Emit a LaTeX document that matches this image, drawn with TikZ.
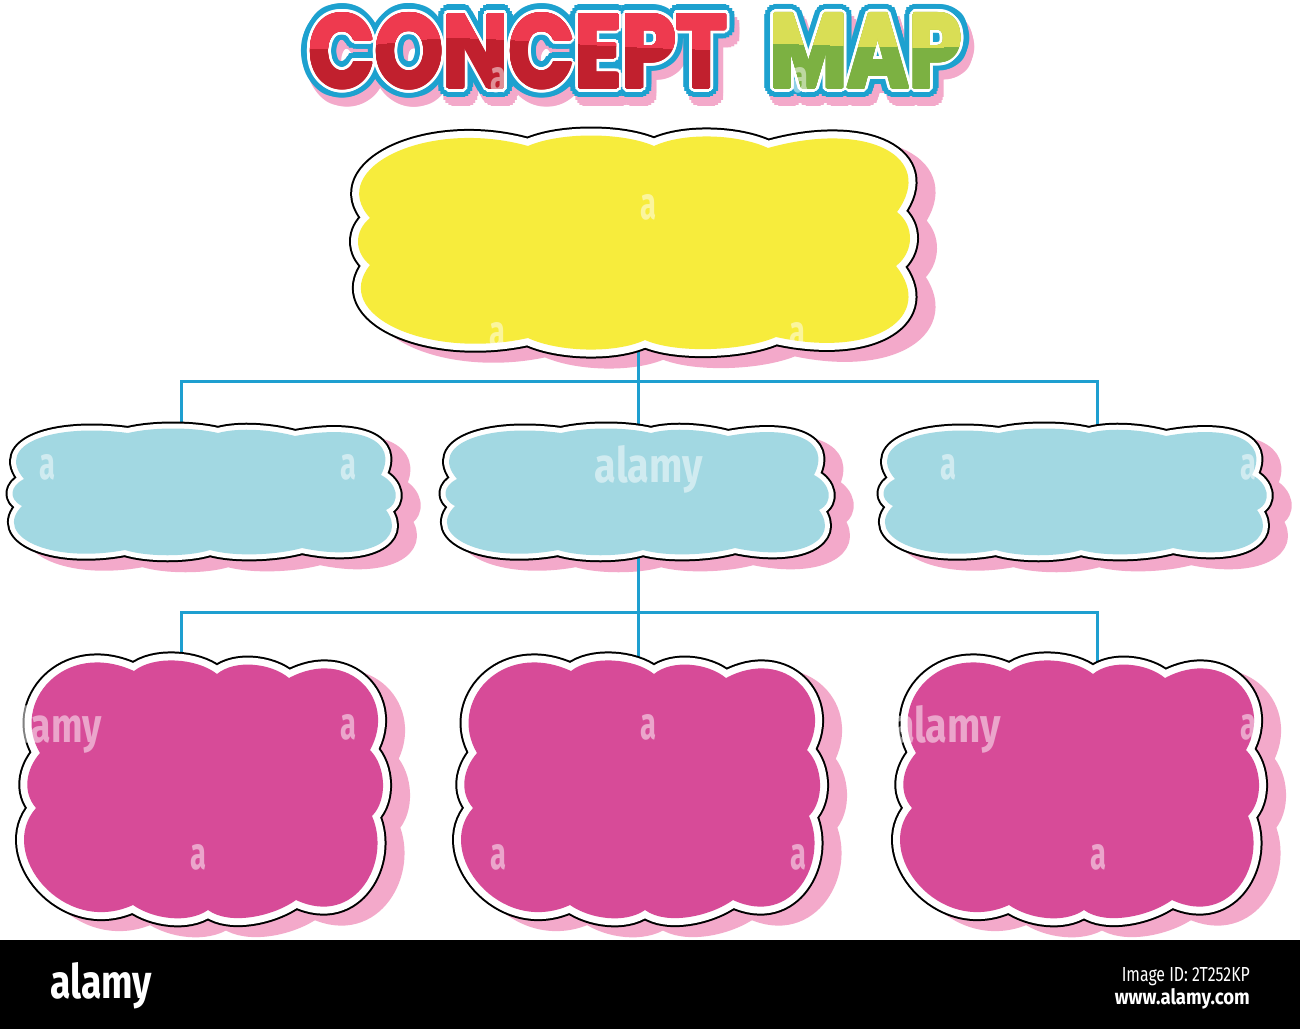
\documentclass[tikz,border=0pt]{standalone}
\usepackage{fontspec}
\newfontfamily\titlefont{Poppins}
\newfontfamily\wmfont{Fira Sans}
\usetikzlibrary{calc}
\definecolor{shpink}{HTML}{F3A9CA}
\definecolor{cyellow}{HTML}{F7EC3C}
\definecolor{cblue}{HTML}{A2D8E2}
\definecolor{cpink}{HTML}{D74B98}
\definecolor{cline}{HTML}{1E9FD0}
\definecolor{tblue}{HTML}{1DA1CF}
\definecolor{tredL}{HTML}{EE3A4F}
\definecolor{tredD}{HTML}{C1202E}
\definecolor{tgrnL}{HTML}{D9DE55}
\definecolor{tgrnD}{HTML}{7CB142}

\newcommand\ypath{(370,218) .. controls +(-45,-50) and +(-100,-28) .. (528,146)
 .. controls +(32,-14) and +(-32,-14) .. (654,146)
 .. controls +(30,-14) and +(-30,-14) .. (768,148)
 .. controls +(100,-28) and +(40,-55) .. (897,212)
 .. controls +(18,14) and +(18,-14) .. (896,266)
 .. controls +(40,50) and +(100,22) .. (776,337)
 .. controls +(-32,14) and +(32,14) .. (645,340)
 .. controls +(-30,14) and +(30,14) .. (528,338)
 .. controls +(-100,22) and +(-40,50) .. (370,265)
 .. controls +(-16,-13) and +(-16,13) .. (370,218) -- cycle}

\newcommand\bpath{(24,479) .. controls +(-30,-35) and +(-75,-10) .. (128,433)
 .. controls +(25,-6) and +(-25,-6) .. (218,433)
 .. controls +(22,-6) and +(-22,-6) .. (295,436)
 .. controls +(65,-12) and +(18,-35) .. (381,475)
 .. controls +(16,8) and +(16,-8) .. (386,510)
 .. controls +(22,30) and +(65,14) .. (302,548)
 .. controls +(-25,7) and +(25,7) .. (210,550)
 .. controls +(-22,7) and +(22,7) .. (125,550)
 .. controls +(-75,14) and +(-30,30) .. (22,506)
 .. controls +(-14,-7) and +(-14,7) .. (24,479) -- cycle}

\newcommand\ppath{(40,753) .. controls +(-30,-50) and +(-70,-32) .. (134,671)
 .. controls +(20,-16) and +(-20,-16) .. (217,674)
 .. controls +(18,-15) and +(-18,-15) .. (289,678)
 .. controls +(60,-32) and +(28,-50) .. (370,750)
 .. controls +(16,16) and +(16,-16) .. (372,816)
 .. controls +(20,45) and +(60,28) .. (296,900)
 .. controls +(-22,16) and +(22,16) .. (208,910)
 .. controls +(-20,14) and +(20,14) .. (133,905)
 .. controls +(-70,32) and +(-40,45) .. (36,808)
 .. controls +(-14,-16) and +(-14,16) .. (40,753) -- cycle}

\newcommand\cshadow[3]{\begin{scope}[shift={#3},shift={(18,10)}]
  \filldraw[shpink,line width=#2,line join=round] #1;
 \end{scope}}
\newcommand\cloud[5]{\begin{scope}[shift={#5}]
  \draw[black,line width=#3,line join=round] #1;
  \draw[white,line width=#4,line join=round] #1;
  \fill[#2] #1;
 \end{scope}}

\newcommand\tC{\resizebox{418pt}{74pt}{\titlefont\bfseries CONCEPT}}
\newcommand\tM{\resizebox{192pt}{74pt}{\titlefont\bfseries MAP}}
\newcommand\tlayerC[5]{\foreach \a in {0,20,...,340}{
  \node[tt,text=#2,name=tc#1\a] at ($(518,51)+(#4,#5)+(\a:#3)$) {\tC};}}
\newcommand\tlayerM[5]{\foreach \a in {0,20,...,340}{
  \node[tt,text=#2,name=tm#1\a] at ($(866,51)+(#4,#5)+(\a:#3)$) {\tM};}}

\begin{document}
\begin{tikzpicture}[x=1pt,y=-1pt,
 conn/.style={draw=cline,line width=3pt},
 tt/.style={inner sep=0pt,outer sep=0pt},
 wm/.style={inner sep=0pt,outer sep=0pt,text=white,text opacity=0.5,font=\wmfont\bfseries}]
\useasboundingbox (0,0) rectangle (1300,1029);
\fill[white] (0,0) rectangle (1300,1029);

% shadows
\cshadow{\ypath}{18pt}{(0,0)}
\foreach \s in {0,433,871}{\cshadow{\bpath}{14pt}{(\s,0)}}
\foreach \s in {0,437,876}{\cshadow{\ppath}{18pt}{(\s,0)}}

% connection points
\coordinate (Yc) at (638,240);
\coordinate (J1) at (638,381);
\coordinate (B1c) at (181,490);
\coordinate (B2c) at (638,490);
\coordinate (B3c) at (1097,490);
\coordinate (J2) at (638,612);
\coordinate (P1c) at (181,790);
\coordinate (P2c) at (638,790);
\coordinate (P3c) at (1097,790);
\draw[conn] (Yc) -- (J1);
\draw[conn] (J1) -- (B2c);
\draw[conn] (B1c) |- (J1) -| (B3c);
\draw[conn] (B2c) -- (J2);
\draw[conn] (J2) -- (P2c);
\draw[conn] (P1c) |- (J2) -| (P3c);

% clouds
\cloud{\ypath}{cyellow}{18pt}{14pt}{(0,0)}
\foreach \s in {0,433,871}{\cloud{\bpath}{cblue}{14pt}{10pt}{(\s,0)}}
\foreach \s in {0,437,876}{\cloud{\ppath}{cpink}{18pt}{14pt}{(\s,0)}}

% title
\tlayerC{s}{shpink}{10}{5}{9}
\tlayerM{s}{shpink}{10}{5}{9}
\tlayerC{b}{tblue}{10}{0}{0}
\tlayerM{b}{tblue}{10}{0}{0}
\tlayerC{w}{white}{4.5}{0}{0}
\tlayerM{w}{white}{4.5}{0}{0}
\tlayerC{d}{tredD}{1.5}{0}{0}
\tlayerM{d}{tgrnD}{1.5}{0}{0}
\begin{scope}
 \clip (290,0) -- (290,48) .. controls (360,52) and (400,36) .. (470,38) .. controls (540,40) and (600,48) .. (745,50) -- (745,0) -- cycle;
 \tlayerC{l}{tredL}{1.5}{0}{0}
\end{scope}
\begin{scope}
 \clip (750,0) -- (750,44) .. controls (820,42) and (870,50) .. (985,46) -- (985,0) -- cycle;
 \tlayerM{l}{tgrnL}{1.5}{0}{0}
\end{scope}

% watermark letters
\foreach \x/\y [count=\i] in {498/80,800/80,648/207,497/335,797/335,48/467,348/467,948/467,1248/467,348/727,648/727,1248/727,198/857,498/857,798/857,1098/857}
 \node[wm,anchor=base,name=wa\i] at (\x,\y+12.5) {\resizebox{16pt}{25pt}{a}};
\node[wm,anchor=base] (wl1) at (649,482) {\resizebox{108pt}{37pt}{alamy}};
\node[wm,anchor=base] (wl3) at (947,742) {\resizebox{108pt}{37pt}{alamy}};
\node[wm,anchor=base west] (wl2) at (0,742) {\resizebox{102pt}{37pt}{alamy}};

% bottom bar
\fill[black] (0,940) rectangle (1300,1029);
\node[inner sep=0pt,text=white,anchor=base west,font=\wmfont\bfseries] (logo) at (50,998) {\resizebox{102pt}{36pt}{alamy}};
\node[inner sep=0pt,text=white,anchor=base east,font=\wmfont] (imgid) at (1250,981) {\resizebox{128pt}{14pt}{Image ID: 2T252KP}};
\node[inner sep=0pt,text=white,anchor=base east,font=\wmfont\bfseries] (url) at (1250,1004) {\resizebox{135pt}{16pt}{www.alamy.com}};
\end{tikzpicture}
\end{document}
